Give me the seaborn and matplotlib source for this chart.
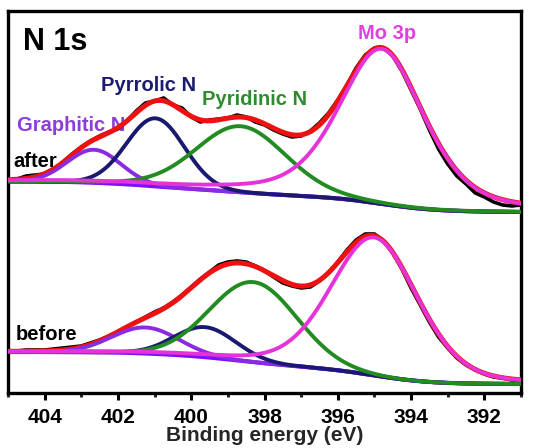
import numpy as np
import pandas as pd
import matplotlib
matplotlib.use("Agg")
import matplotlib.pyplot as plt
import seaborn as sns
from matplotlib.ticker import MultipleLocator

# ---- fitted peak parameters ----
components = ["Graphitic N", "Pyrrolic N", "Pyridinic N", "Mo 3p"]
comp_colors = ["#8A2BE2", "#191970", "#228B22", "#E633D9"]

after_center = [402.65, 400.97, 398.65, 394.80]
after_fwhm = [1.72, 1.86, 2.90, 2.75]
after_height = [33, 68, 66, 155]
after_lorentz = [0.0, 0.0, 0.1, 0.45]
after_background = [211.5, 181.0]   # at 405 eV and 391 eV

before_center = [401.25, 399.62, 398.30, 395.00]
before_fwhm = [2.13, 1.97, 2.79, 2.80]
before_height = [26, 30, 80, 138]
before_lorentz = [0.0, 0.0, 0.0, 0.25]
before_background = [41.0, 9.0]

# ---- raw (measured) spectra, 405 -> 391 eV in 0.25 eV steps ----
raw_energy = np.linspace(405, 391, 57)
after_raw = [212, 214, 217, 218, 219, 223, 231, 239, 246, 252, 257, 261, 264, 272,
             282, 290, 292, 295, 288, 285, 276, 271, 273, 274, 275, 278, 276, 271,
             268, 263, 259, 256, 257, 262, 270, 280, 293, 308, 325, 338, 345, 345,
             337, 322, 303, 284, 263, 244, 229, 217, 209, 200, 196, 191, 188, 187, 188]
before_raw = [42, 42, 43, 43, 43, 44, 45, 46, 47, 50, 53, 57, 61, 66, 71, 76, 81, 85,
              91, 98, 106, 114, 121, 128, 131, 132, 131, 127, 122, 116, 110, 107, 105,
              106, 112, 120, 131, 143, 153, 159, 159, 152, 140, 124, 105, 88, 71, 56,
              45, 35, 28, 23, 19, 16, 15, 13, 12]

x_ticks = [404, 402, 400, 398, 396, 394, 392]

sns.set_theme(style="white")
plt.rcParams["font.family"] = ["Liberation Sans", "DejaVu Sans"]
plt.rcParams["font.weight"] = "bold"

E = np.linspace(405, 391, 561)


def pv(e, c, w, h, m):
    g = np.exp(-4 * np.log(2) * ((e - c) / w) ** 2)
    l = 1.0 / (1 + 4 * ((e - c) / w) ** 2)
    return h * ((1 - m) * g + m * l)


def model(center, fwhm, height, lor, bg):
    peaks = [pv(E, c, w, h, m) for c, w, h, m in zip(center, fwhm, height, lor)]
    total = np.sum(peaks, axis=0)
    frac = np.cumsum(total) / np.sum(total)
    base = bg[0] - (bg[0] - bg[1]) * frac
    return base, [base + p for p in peaks], base + total


fig = plt.figure(figsize=(5.33, 4.48), dpi=100)
ax = fig.add_axes([0.015, 0.1228, 0.9625, 0.8527])

for center, fwhm, height, lor, bg, raw in [
    (after_center, after_fwhm, after_height, after_lorentz, after_background, after_raw),
    (before_center, before_fwhm, before_height, before_lorentz, before_background, before_raw),
]:
    base, comps, env = model(center, fwhm, height, lor, bg)
    raw_df = pd.DataFrame({"energy": raw_energy, "intensity": raw})
    sns.lineplot(data=raw_df, x="energy", y="intensity", ax=ax, color="black",
                 lw=2.6, zorder=2, estimator=None)
    sns.lineplot(x=E, y=env, ax=ax, color="#EE1111", lw=3.6, zorder=3, estimator=None)
    sns.lineplot(x=E, y=base, ax=ax, color="#7F0FFF", lw=3.0, zorder=4, estimator=None)
    for comp, col in zip(comps, comp_colors):
        sns.lineplot(x=E, y=comp, ax=ax, color=col, lw=2.8, zorder=4, estimator=None)

ax.set_xlim(405, 391)
ax.set_ylim(0, 382)
ax.set_yticks([])
ax.set_xticks(x_ticks)
ax.set_xticklabels([str(t) for t in x_ticks])
ax.xaxis.set_minor_locator(MultipleLocator(1))
ax.tick_params(axis="x", which="major", direction="out", length=5, width=2.2,
               labelsize=15, pad=6, bottom=True, colors="black")
ax.tick_params(axis="x", which="minor", direction="out", length=3, width=2.2, bottom=True)
for s in ax.spines.values():
    s.set_linewidth(2.4)
    s.set_color("black")
ax.set_xlabel("Binding energy (eV)", fontsize=15, fontweight="bold", labelpad=-1)
ax.set_ylabel("")

ax.text(404.59, 343, "N 1s", fontsize=22, fontweight="bold", color="black")
ax.text(395.46, 354, "Mo 3p", fontsize=14.5, fontweight="bold", color="#E040E0")
ax.text(402.46, 302, "Pyrrolic N", fontsize=14.5, fontweight="bold", color="#1C1C6E")
ax.text(399.70, 288, "Pyridinic N", fontsize=14.5, fontweight="bold", color="#2E8B2E")
ax.text(404.75, 262, "Graphitic N", fontsize=14.5, fontweight="bold", color="#8B3DD9", zorder=1)
ax.text(404.86, 226, "after", fontsize=14.5, fontweight="bold", color="black")
ax.text(404.78, 53, "before", fontsize=14.5, fontweight="bold", color="black")

fig.savefig("out.png", dpi=100)
